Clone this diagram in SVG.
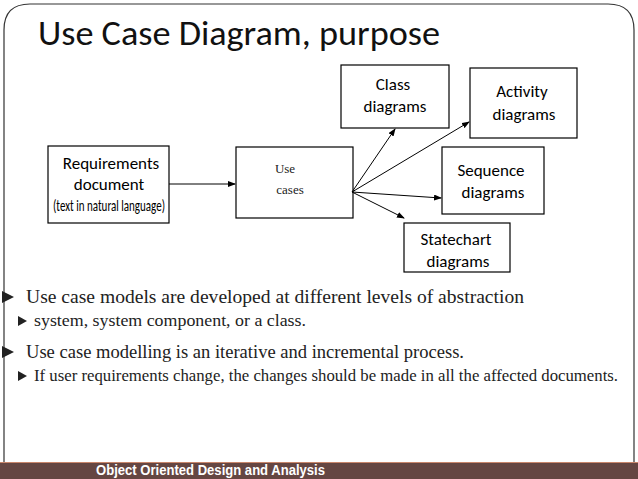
<svg xmlns="http://www.w3.org/2000/svg" width="638" height="479" viewBox="0 0 638 479">
<style>
.b{fill:#fff;stroke:#000;stroke-width:1.2}
.t{font-family:Carlito,"Liberation Sans",sans-serif;font-size:17px;text-anchor:middle;fill:#000}
.s{font-family:"Liberation Serif",serif;fill:#222}
.c{stroke:#000;stroke-width:1;fill:none;marker-end:url(#a)}
.bl{fill:#222}
</style>
<defs><marker id="a" markerWidth="8" markerHeight="6" refX="7" refY="3" orient="auto" markerUnits="userSpaceOnUse"><path d="M0,0L8,3L0,6z" fill="#000"/></marker></defs>
<rect width="638" height="479" fill="#fff"/>
<path d="M4,462V30Q4,4,30,4H608Q634,4,634,30V462" fill="none" stroke="#333" stroke-width="1.2"/>
<text x="38" y="45" font-family="Carlito,'Liberation Sans',sans-serif" font-size="35" fill="#111" textLength="402" lengthAdjust="spacingAndGlyphs">Use Case Diagram, purpose</text>
<g id="req"><rect class="b" x="48" y="146" width="121" height="77"/><text class="t" x="111" y="169">Requirements</text><text class="t" x="109" y="190">document</text><text class="t" x="109" y="211" font-size="9.5" textLength="112" lengthAdjust="spacingAndGlyphs">(text in natural language)</text></g>
<g id="uc"><rect class="b" x="236" y="147" width="117" height="71" stroke="#555"/><text class="s" x="285" y="173" font-size="13" text-anchor="middle" fill="#444">Use</text><text class="s" x="290" y="194" font-size="13" text-anchor="middle" fill="#444">cases</text></g>
<g id="class"><rect class="b" x="341" y="65" width="108" height="63"/><text class="t" x="393" y="90">Class</text><text class="t" x="395" y="112">diagrams</text></g>
<g id="act"><rect class="b" x="470" y="68" width="107" height="70"/><text class="t" x="522" y="97">Activity</text><text class="t" x="524" y="120">diagrams</text></g>
<g id="seq"><rect class="b" x="442" y="147" width="102" height="67"/><text class="t" x="491" y="176">Sequence</text><text class="t" x="493" y="198">diagrams</text></g>
<g id="state"><rect class="b" x="404" y="223" width="106" height="49"/><text class="t" x="456" y="245">Statechart</text><text class="t" x="458" y="267">diagrams</text></g>
<g id="connectors">
<line class="c" x1="169" y1="184" x2="235" y2="184"/>
<line class="c" x1="352" y1="192" x2="395" y2="129"/>
<line class="c" x1="352" y1="192" x2="469" y2="122"/>
<line class="c" x1="352" y1="192" x2="441" y2="198"/>
<line class="c" x1="352" y1="192" x2="404" y2="218"/>
</g>
<path class="bl" d="M2,291L14,297L2,303z"/>
<text class="s" x="26" y="303" font-size="19" textLength="498" lengthAdjust="spacingAndGlyphs">Use case models are developed at different levels of abstraction</text>
<path class="bl" d="M18,316L27,321L18,326z"/>
<text class="s" x="34" y="326" font-size="16" textLength="272" lengthAdjust="spacingAndGlyphs">system, system component, or a class.</text>
<path class="bl" d="M2,346L14,352L2,358z"/>
<text class="s" x="26" y="358" font-size="19" textLength="438" lengthAdjust="spacingAndGlyphs">Use case modelling is an iterative and incremental process.</text>
<path class="bl" d="M18,371L27,376L18,381z"/>
<text class="s" x="34" y="381" font-size="16" textLength="584" lengthAdjust="spacingAndGlyphs">If user requirements change, the changes should be made in all the affected documents.</text>
<rect x="0" y="462" width="638" height="17" fill="#654642"/>
<rect x="0" y="462" width="638" height="1" fill="#c9866b"/>
<text x="96" y="475" font-family="'Liberation Sans',sans-serif" font-weight="bold" font-size="14" fill="#fff" textLength="229" lengthAdjust="spacingAndGlyphs">Object Oriented Design and Analysis</text>
</svg>
